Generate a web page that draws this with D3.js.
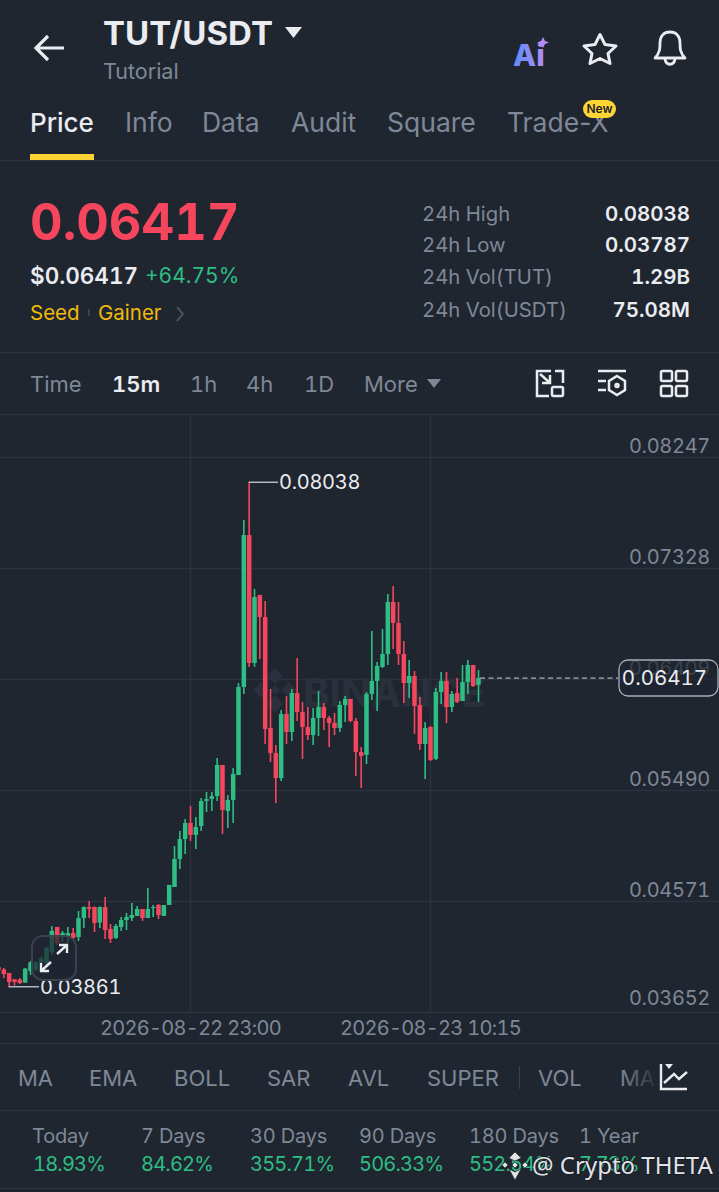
<!DOCTYPE html>
<html lang="en">

<head>
  <meta http-equiv="Content-Type" content="text/html; charset=UTF-8">
  <title>TUT/USDT 15m candles</title>
  <style type="text/css">
    html, body { margin: 0; padding: 0; background: #1f2630; }
    svg { display: block; }
    text { font-family: Inter, "Noto Sans", sans-serif; font-variant-numeric: tabular-nums; }
  </style>
</head>

<body>
  <svg width="719" height="1192"></svg>
  <script src="https://cdn.jsdelivr.net/npm/d3@7"></script>
  <script>
    // candle prices in units of 0.00001, oldest first
    var opens = [4025, 4004, 3975, 3921, 3921, 3895, 3992, 4000, 4062, 4058, 4149, 4356, 4281, 4273, 4306, 4273, 4430, 4521, 4521, 4393, 4521, 4339, 4265, 4356, 4414, 4430, 4447, 4505, 4430, 4513, 4538, 4447, 4538, 4687, 4919, 5084, 5217, 5118, 5192, 5399, 5416, 5440, 5697, 5316, 5408, 5614, 6343, 7601, 6542, 7105, 6922, 6004, 5796, 5589, 6119, 5970, 6293, 6136, 6012, 5945, 6086, 6177, 6086, 6045, 6004, 6194, 6244, 6061, 5805, 5780, 6285, 6393, 6509, 6616, 7047, 6873, 6616, 6376, 6434, 6194, 5871, 6012, 5747, 6301, 6393, 6177, 6293, 6227, 6384, 6525, 6360];
    var closes = [4000, 3967, 3901, 3901, 3892, 4011, 4062, 4066, 4095, 4182, 4323, 4223, 4306, 4306, 4265, 4430, 4521, 4505, 4389, 4521, 4331, 4257, 4364, 4414, 4439, 4455, 4505, 4430, 4505, 4521, 4455, 4538, 4704, 4919, 5084, 5217, 5118, 5184, 5399, 5416, 5440, 5697, 5325, 5408, 5623, 6343, 7601, 6542, 7088, 6922, 5995, 5796, 5589, 6119, 5970, 6293, 6136, 6012, 5945, 6086, 6177, 6086, 6045, 6004, 6194, 6244, 6061, 5805, 5772, 6285, 6393, 6517, 6616, 7047, 6873, 6616, 6376, 6434, 6186, 5871, 6004, 5738, 6301, 6393, 6177, 6285, 6219, 6384, 6525, 6351, 6417];
    var highs = [4033, 4016, 3975, 3925, 3934, 4016, 4074, 4070, 4110, 4190, 4364, 4356, 4323, 4356, 4348, 4488, 4526, 4571, 4526, 4526, 4604, 4381, 4381, 4439, 4472, 4555, 4530, 4505, 4679, 4538, 4546, 4538, 4704, 5026, 5151, 5250, 5358, 5267, 5424, 5474, 5474, 5755, 5697, 5449, 5672, 6376, 7726, 8038, 7154, 7105, 7055, 6326, 5863, 6152, 6268, 6326, 6583, 6219, 6177, 6169, 6310, 6210, 6103, 6128, 6227, 6268, 6244, 6086, 5846, 6301, 6806, 6550, 6823, 7113, 7179, 7047, 6724, 6566, 6475, 6260, 6053, 6020, 6335, 6467, 6467, 6310, 6417, 6525, 6566, 6525, 6483];
    var lows = [3983, 3934, 3861, 3872, 3884, 3895, 3959, 3992, 4050, 4041, 4124, 4207, 4232, 4223, 4257, 4240, 4348, 4430, 4314, 4348, 4257, 4223, 4257, 4323, 4331, 4406, 4447, 4406, 4430, 4439, 4422, 4447, 4538, 4687, 4836, 4960, 5068, 5002, 5151, 5308, 5316, 5399, 5126, 5175, 5217, 5614, 6285, 6509, 6509, 6575, 5871, 5722, 5382, 5565, 5871, 5896, 6061, 5747, 5904, 5863, 5937, 5987, 5846, 5945, 5970, 6053, 6053, 5606, 5507, 5705, 6235, 6144, 6500, 6525, 6657, 6525, 6210, 6252, 5954, 5821, 5581, 5730, 5738, 6202, 6045, 6136, 6210, 6227, 6285, 6343, 6219];

    var yTicks = [0.08247, 0.07328, 0.06409, 0.05490, 0.04571, 0.03652];
    var timeTicks = ["2026-08-22 23:00", "2026-08-23 10:15"];
    var highMark = 0.08038, lowMark = 0.03861, lastPrice = 0.06417;

    var tabs = ["Price", "Info", "Data", "Audit", "Square", "Trade-X"];
    var statLabels = ["24h High", "24h Low", "24h Vol(TUT)", "24h Vol(USDT)"];
    var statValues = ["0.08038", "0.03787", "1.29B", "75.08M"];
    var intervals = ["Time", "15m", "1h", "4h", "1D", "More"];
    var indicators = ["MA", "EMA", "BOLL", "SAR", "AVL", "SUPER", "VOL", "MA"];
    var periodLabels = ["Today", "7 Days", "30 Days", "90 Days", "180 Days", "1 Year"];
    var periodValues = ["18.93%", "84.62%", "355.71%", "506.33%", "552.54%", "7.73%"];

    var GREEN = "#2ebd85", RED = "#f6465d", GREY = "#7f8896", GRID = "#2c333e", BG = "#1f2630", WHITE = "#eaecef";
    var CANDLE_MS = 15 * 60 * 1000;
    var parseTime = d3.utcParse("%Y-%m-%d %H:%M");
    var t0 = parseTime(timeTicks[0]), t1 = parseTime(timeTicks[1]);
    var firstTime = +t0 - 36 * CANDLE_MS;

    var candles = opens.map(function (o, i) {
      return { time: new Date(firstTime + i * CANDLE_MS), open: o / 1e5, close: closes[i] / 1e5, high: highs[i] / 1e5, low: lows[i] / 1e5 };
    });

    var svg = d3.select("svg");

    var x = d3.scaleUtc().domain([t0, t1]).range([190, 430]);
    var y = d3.scaleLinear().domain([0.03652, 0.08247]).range([1012, 457]);

    function label(txt, px, py, size, color, opts) {
      opts = opts || {};
      return svg.append("text")
        .attr("x", px).attr("y", py)
        .attr("dy", "0.35em")
        .attr("font-size", size)
        .attr("fill", color)
        .attr("font-weight", opts.weight || 400)
        .attr("text-anchor", opts.anchor || "start")
        .attr("letter-spacing", opts.ls || 0)
        .text(txt);
    }
    function hline(py) {
      svg.append("line").attr("x1", 0).attr("x2", 719).attr("y1", py).attr("y2", py)
        .attr("stroke", GRID).attr("stroke-width", 1.5);
    }

    svg.append("rect").attr("width", 719).attr("height", 1192).attr("fill", BG);
    [160.5, 352.5, 414.5, 1043.5, 1110.5, 1188.5].forEach(hline);

    // ---- header ----
    svg.append("path").attr("d", "M36 48H64M48 36L36 48L48 60")
      .attr("fill", "none").attr("stroke", WHITE).attr("stroke-width", 3.2);
    label("TUT/USDT", 103, 33, 33, WHITE, { weight: 700 });
    svg.append("path").attr("d", "M285 27H302L293.5 38Z").attr("fill", WHITE);
    label("Tutorial", 103, 71, 21.5, GREY);

    var defs = svg.append("defs");
    var aiGrad = defs.append("linearGradient").attr("id", "aiGrad");
    aiGrad.append("stop").attr("offset", "0%").attr("stop-color", "#5b8dfb");
    aiGrad.append("stop").attr("offset", "100%").attr("stop-color", "#b58cf5");
    label("Ai", 513, 55, 30, "url(#aiGrad)", { weight: 800 });
    svg.append("path").attr("d", "M543 37L545 41L549 42.5L545 44L543 48L541 44L537 42.5L541 41Z").attr("fill", "#b58cf5");

    svg.append("path")
      .attr("d", "M600 34.5L605 44.5L616 46L608 53.5L610 63.5L600 58.5L590 63.5L592 53.5L584 46L595 44.5Z")
      .attr("fill", "none").attr("stroke", WHITE).attr("stroke-width", 3).attr("stroke-linejoin", "round");
    svg.append("path")
      .attr("d", "M655 58C660 53 660 48 660 43C660 36 664 32 670 32C676 32 680 36 680 43C680 48 680 53 685 58ZM665 59C666 66 674 66 675 59")
      .attr("fill", "none").attr("stroke", WHITE).attr("stroke-width", 2.8).attr("stroke-linejoin", "round");

    // ---- tabs ----
    var tabX = [30, 125, 202, 291, 387, 507];
    tabs.forEach(function (t, i) {
      label(t, tabX[i], 123, i === 0 ? 26 : 26.5, i === 0 ? WHITE : GREY, { weight: i === 0 ? 500 : 400 })
        .style("font-variant-numeric", "normal");
    });
    svg.append("rect").attr("x", 30).attr("y", 154).attr("width", 64).attr("height", 6).attr("fill", "#fcd535");
    svg.append("rect").attr("x", 583).attr("y", 100).attr("width", 33).attr("height", 18).attr("rx", 9).attr("fill", "#fcd535");
    label("New", 599.5, 109, 12, "#1e2329", { anchor: "middle", weight: 600 });

    // ---- price block ----
    label("0.06417", 30, 222, 50.5, RED, { weight: 700 });
    label("$0.06417", 30, 276, 22.5, WHITE, { weight: 600 });
    label("+64.75%", 145, 276, 21, GREEN);
    label("Seed", 30, 313, 20.5, "#f0b90b");
    svg.append("rect").attr("x", 88).attr("y", 309).attr("width", 2).attr("height", 7).attr("fill", "#3a414c");
    label("Gainer", 98, 313, 20.5, "#f0b90b");
    svg.append("path").attr("d", "M177 307L183 314L177 321").attr("fill", "none").attr("stroke", "#4a515c").attr("stroke-width", 2);

    var statY = [214, 245, 277, 310];
    statLabels.forEach(function (t, i) {
      label(t, 422, statY[i], 20.3, GREY);
      label(statValues[i], 690, statY[i], 20.5, WHITE, { anchor: "end", weight: 600 });
    });

    // ---- interval row ----
    var intervalX = [30, 112, 190, 246, 304, 364];
    intervals.forEach(function (t, i) {
      label(t, intervalX[i], 384, 22, i === 1 ? WHITE : GREY, { weight: i === 1 ? 600 : 400 });
    });
    svg.append("path").attr("d", "M427 379H441L434 388Z").attr("fill", GREY);

    var icons = svg.append("g").attr("fill", "none").attr("stroke", WHITE).attr("stroke-width", 2.5);
    icons.append("path").attr("d", "M551 371H537V396H549M555 371H563V383M540 374L549 382M550 375V383H542");
    icons.append("rect").attr("x", 552).attr("y", 387).attr("width", 11).attr("height", 9).attr("rx", 1.5);
    icons.append("path").attr("d", "M598 371H626M598 381H606M598 390H606M617 376L625 381V390L617 395L609 390V381Z");
    icons.append("circle").attr("cx", 617).attr("cy", 385.5).attr("r", 1.5);
    [[661, 371], [676, 371], [661, 386], [676, 386]].forEach(function (p) {
      icons.append("rect").attr("x", p[0]).attr("y", p[1]).attr("width", 11).attr("height", 10).attr("rx", 1.5);
    });

    // ---- chart grid and axes ----
    var yAxis = d3.axisRight(y).tickValues(yTicks).tickSize(719).tickFormat(d3.format(".5f"));
    var yG = svg.append("g").attr("class", "y-axis").call(yAxis);
    yG.select(".domain").remove();
    yG.selectAll(".tick line").attr("stroke", GRID).attr("stroke-width", 1.5);
    yG.selectAll(".tick text")
      .attr("x", 710).attr("text-anchor", "end")
      .attr("y", function (d) { return d === 0.03652 ? -14 : -11; })
      .attr("font-size", 20)
      .attr("letter-spacing", -0.3)
      .attr("fill", GREY)
      .style("font-family", "Inter, sans-serif");

    var xAxis = d3.axisBottom(x).tickValues([t0, t1]).tickSize(597)
      .tickFormat(d3.utcFormat("%Y-%m-%d %H:%M"));
    var xG = svg.append("g").attr("class", "x-axis").attr("transform", "translate(0,415)").call(xAxis);
    xG.select(".domain").remove();
    xG.selectAll(".tick line").attr("stroke", GRID).attr("stroke-width", 1.5);
    xG.selectAll(".tick text")
      .attr("y", 606).attr("font-size", 20).attr("fill", GREY)
      .attr("letter-spacing", -0.7)
      .style("font-family", "Inter, sans-serif");

    // ---- faint watermark ----
    var mark = svg.append("g").attr("fill", "#2a313c");
    mark.append("path").attr("d", "M275 668L283 676L275 684L267 676ZM261 682L269 690L261 698L253 690ZM289 682L297 690L289 698L281 690ZM275 696L283 704L275 712L267 704ZM275 685L280 690L275 695L270 690Z");
    mark.append("text").attr("x", 303).attr("y", 707).attr("font-size", 40).attr("font-weight", 700)
      .text("BINANCE");

    // ---- candles ----
    function candleColor(d) { return d.close >= d.open ? GREEN : RED; }
    var candle = svg.append("g").attr("class", "candles")
      .selectAll("g").data(candles).enter().append("g");
    candle.append("line")
      .attr("x1", function (d) { return x(d.time) + 0.5; })
      .attr("x2", function (d) { return x(d.time) + 0.5; })
      .attr("y1", function (d) { return y(d.high); })
      .attr("y2", function (d) { return y(d.low); })
      .attr("stroke", candleColor).attr("stroke-width", 1.6);
    candle.append("rect")
      .attr("x", function (d) { return x(d.time) - 1.75; })
      .attr("width", 4.5)
      .attr("y", function (d) { return y(Math.max(d.open, d.close)); })
      .attr("height", function (d) { return Math.max(1, Math.abs(y(d.open) - y(d.close))); })
      .attr("fill", candleColor);

    // ---- high / low markers ----
    var hi = candles[47], lo = candles[2];
    svg.append("line").attr("x1", x(hi.time)).attr("x2", 278).attr("y1", y(highMark)).attr("y2", y(highMark))
      .attr("stroke", "#c9ced6").attr("stroke-width", 1.3);
    label(d3.format(".5f")(highMark), 279, y(highMark), 20, WHITE, { ls: -0.3 });
    svg.append("line").attr("x1", x(lo.time)).attr("x2", 39).attr("y1", y(lowMark)).attr("y2", y(lowMark))
      .attr("stroke", "#c9ced6").attr("stroke-width", 1.3);
    label(d3.format(".5f")(lowMark), 40, y(lowMark), 20, WHITE, { ls: -0.3 });

    // ---- expand button over the chart ----
    svg.append("rect").attr("x", 32).attr("y", 936).attr("width", 44).attr("height", 44).attr("rx", 11)
      .attr("fill", BG).attr("fill-opacity", 0.72).attr("stroke", "#3b424d").attr("stroke-width", 2);
    svg.append("path").attr("d", "M57 954L67 945M59 945H67V953M51 962L41 971M41 963V971H49")
      .attr("fill", "none").attr("stroke", WHITE).attr("stroke-width", 2.4);

    // ---- last price line and tag ----
    svg.append("line").attr("x1", x(candles[90].time) + 2).attr("x2", 618).attr("y1", y(lastPrice)).attr("y2", y(lastPrice))
      .attr("stroke", "#a9afb8").attr("stroke-width", 1.3).attr("stroke-dasharray", "5 3.5");
    svg.append("rect").attr("x", 619).attr("y", 660).attr("width", 99).attr("height", 36).attr("rx", 9)
      .attr("fill", BG).attr("fill-opacity", 0.72).attr("stroke", "#a9afb8").attr("stroke-width", 1.3);
    label(d3.format(".5f")(lastPrice), 664.5, y(lastPrice), 20.5, WHITE, { anchor: "middle" });

    // ---- indicators row ----
    var indicatorX = [18, 89, 174, 267, 348, 427, 538, 620];
    var fade = defs.append("linearGradient").attr("id", "fadeMa")
      .attr("gradientUnits", "userSpaceOnUse").attr("x1", 620).attr("x2", 656);
    fade.append("stop").attr("offset", "0%").attr("stop-color", GREY);
    fade.append("stop").attr("offset", "100%").attr("stop-color", GREY).attr("stop-opacity", 0.1);
    indicators.forEach(function (t, i) {
      label(t, indicatorX[i], 1078, 22, i === 7 ? "url(#fadeMa)" : GREY);
    });
    svg.append("rect").attr("x", 519).attr("y", 1066).attr("width", 1).attr("height", 23).attr("fill", "#3a414c");
    svg.append("path").attr("d", "M661 1064V1089H687M664 1083L674 1074L679 1079L687 1072")
      .attr("fill", "none").attr("stroke", WHITE).attr("stroke-width", 2.4);
    svg.append("path").attr("d", "M665 1064H673L669 1069Z").attr("fill", WHITE);

    // ---- period returns ----
    var periodX = [32, 141, 250, 359, 469, 579];
    periodLabels.forEach(function (t, i) {
      label(t, periodX[i], 1136, 20, GREY, { ls: -0.2 });
      label(periodValues[i], periodX[i] + (i === 0 ? 1 : 0), 1164, 20, GREEN, { ls: -0.8 });
    });

    // ---- screenshot watermark ----
    var stamp = svg.append("g").attr("fill", "#e2e4e8").attr("stroke", "#20252c").attr("stroke-width", 0.6);
    stamp.append("path").attr("d", "M515 1152L521 1158L515 1161L509 1158ZM505 1162L508 1165L505 1168L502 1165ZM525 1162L528 1165L525 1168L522 1165ZM515 1172L509 1169L515 1180L521 1169ZM515 1162L518 1165L515 1168L512 1165Z");
    label("@ Crypto THETA", 532, 1166, 24, "#e2e4e8").style("font-family", "'Noto Sans', sans-serif")
      .style("paint-order", "stroke").attr("stroke", "#14181e").attr("stroke-width", 1.5);
  </script>
</body>

</html>
